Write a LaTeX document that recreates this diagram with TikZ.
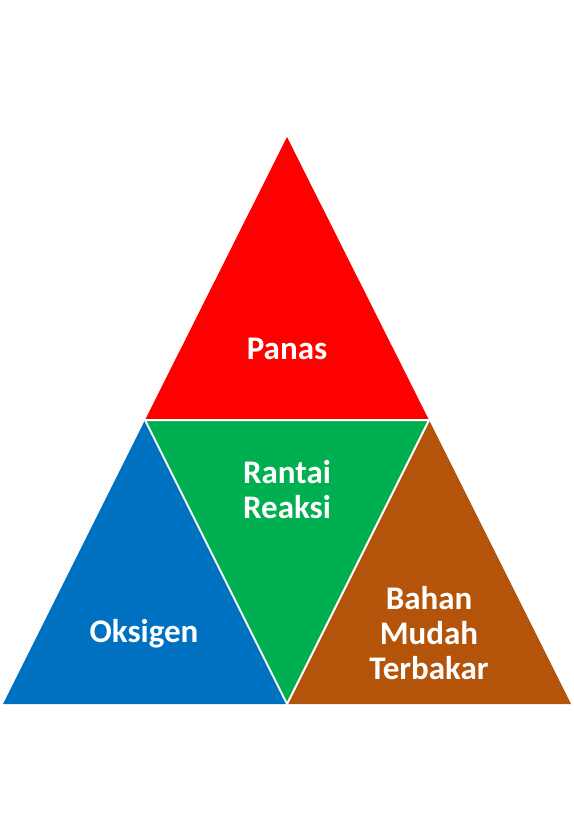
\documentclass[tikz,border=0pt]{standalone}
\usepackage{fontspec}
\setmainfont{Carlito}
\definecolor{cred}{HTML}{FF0000}
\definecolor{cblue}{HTML}{0070C0}
\definecolor{cgreen}{HTML}{00B050}
\definecolor{cbrown}{HTML}{B4540A}
\begin{document}
\begin{tikzpicture}[x=1pt,y=-1pt,
  tri/.style={draw=white,line width=2pt,line join=miter},
  lbl/.style={text=white,font=\fontsize{33}{35}\selectfont\bfseries,align=center,inner sep=0pt}]
\useasboundingbox (0,0) rectangle (573,840);
\coordinate (A) at (287,137);
\coordinate (L) at (3,704);
\coordinate (R) at (571,704);
\coordinate (ML) at (145,420);
\coordinate (MR) at (429,420);
\coordinate (MB) at (287,704);
\fill[cred] (A) -- (ML) -- (MR) -- cycle;
\fill[cblue] (ML) -- (L) -- (MB) -- cycle;
\fill[cbrown] (MR) -- (MB) -- (R) -- cycle;
\fill[cgreen] (ML) -- (MR) -- (MB) -- cycle;
\draw[tri] (ML) -- (MR) -- (MB) -- cycle;
\node[lbl] (panas) at (287,349) {Panas};
\node[lbl] (rantai) at (287,490) {Rantai\\Reaksi};
\node[lbl] (oks) at (144,634) {Oksigen};
\node[lbl] (bahan) at (429,633) {Bahan\\Mudah\\Terbakar};
\end{tikzpicture}
\end{document}
